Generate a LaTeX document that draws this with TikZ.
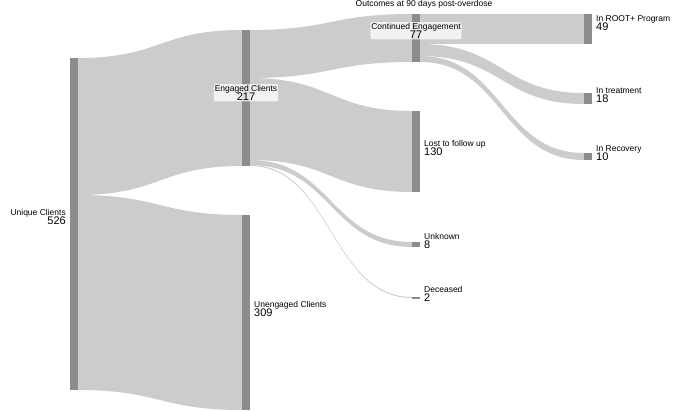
\documentclass[tikz,border=0pt]{standalone}
\usepackage{fontspec}
\setmainfont{Liberation Sans}
\begin{document}
\begin{tikzpicture}[x=1pt,y=-1pt,
  bar/.style={fill=black!45},
  flow/.style={fill=black!20},
  lbl/.style={font=\fontsize{8.5}{10}\selectfont,align=left,anchor=north west,inner sep=1pt},
  num/.style={font=\fontsize{11}{12}\selectfont},
  hl/.style={fill=white,fill opacity=0.75,text opacity=1,rounded corners=2pt}]
\useasboundingbox (0,0) rectangle (685,412);
\newcommand{\band}[6]{\fill[flow] (#1,#2) .. controls ({(#1+#4)/2},#2) and ({(#1+#4)/2},#5) .. (#4,#5) -- (#4,#6) .. controls ({(#1+#4)/2},#6) and ({(#1+#4)/2},#3) .. (#1,#3) -- cycle;}
% flows
\band{78}{58}{195}{242}{30}{166}
\band{78}{195}{390}{242}{215}{410}
\band{250}{30}{78}{412}{14}{62}
\band{250}{78}{160}{412}{111}{192}
\band{250}{160}{165}{412}{242}{247}
\band{250}{165}{166}{412}{297}{298}
\band{420}{14}{44}{584}{14}{44}
\band{420}{44}{56}{584}{93}{104}
\band{420}{56}{62}{584}{153}{160}
% bars
\fill[bar] (70,58) rectangle (78,390); \coordinate (uc) at (70,58);
\fill[bar] (242,30) rectangle (250,166);
\fill[bar] (242,215) rectangle (250,410);
\fill[bar] (412,14) rectangle (420,62);
\fill[bar] (412,111) rectangle (420,192);
\fill[bar] (412,242) rectangle (420,247);
\fill[bar] (412,297) rectangle (420,298.5);
\fill[bar] (584,14) rectangle (592,44);
\fill[bar] (584,93) rectangle (592,104);
\fill[bar] (584,153) rectangle (592,160);
% labels
\node[lbl,anchor=north east,align=right] (l1) at (67,208) {Unique Clients\\[-1pt]{\fontsize{11}{12}\selectfont 526}};
\node[lbl,hl,align=center,anchor=north] (l2) at (246,84) {Engaged Clients\\[-1pt]{\fontsize{11}{12}\selectfont 217}};
\node[lbl] (l3) at (253,300) {Unengaged Clients\\[-1pt]{\fontsize{11}{12}\selectfont 309}};
\node[lbl,hl,align=center,anchor=north] (l4) at (416,22) {Continued Engagement\\[-1pt]{\fontsize{11}{12}\selectfont 77}};
\node[lbl] (l5) at (423,139) {Lost to follow up\\[-1pt]{\fontsize{11}{12}\selectfont 130}};
\node[lbl] (l6) at (423,232) {Unknown\\[-1pt]{\fontsize{11}{12}\selectfont 8}};
\node[lbl] (l7) at (423,285) {Deceased\\[-1pt]{\fontsize{11}{12}\selectfont 2}};
\node[lbl] (l8) at (595,14) {In ROOT+ Program\\[-1pt]{\fontsize{11}{12}\selectfont 49}};
\node[lbl] (l9) at (595,86) {In treatment\\[-1pt]{\fontsize{11}{12}\selectfont 18}};
\node[lbl] (l10) at (595,144) {In Recovery\\[-1pt]{\fontsize{11}{12}\selectfont 10}};
\node[lbl,anchor=north] (t) at (424,-1) {Outcomes at 90 days post-overdose};
\end{tikzpicture}
\end{document}
